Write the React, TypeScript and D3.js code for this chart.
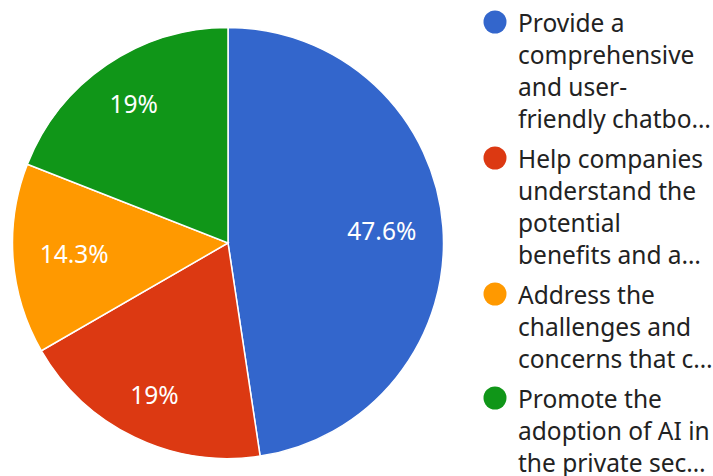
import React from "react";
import * as d3 from "d3";

const categories = [
  ["Provide a", "comprehensive", "and user-", "friendly chatbo…"],
  ["Help companies", "understand the", "potential", "benefits and a…"],
  ["Address the", "challenges and", "concerns that c…"],
  ["Promote the", "adoption of AI in", "the private sec…"],
];
const counts = [10, 4, 3, 4];
const percentLabels = ["47.6%", "19%", "14.3%", "19%"];
const colors = ["#3366cc", "#dc3912", "#ff9900", "#109618"];

const W = 713;
const H = 476;
const CX = 228;
const CY = 243;
const R = 215.5;
const LABEL_R = 188;
const FS = 24.5;

const charW: Record<string, number> = { ".": 0.268, "%": 0.82 };
function textWidth(s: string) {
  let w = 0;
  for (const ch of s) w += (charW[ch] ?? 0.572) * FS;
  return w - 0.1 * FS;
}

export default function App() {
  const pie = d3.pie<number>().sort(null).value((d) => d);
  const arcs = pie(counts);
  const arc = d3.arc<d3.PieArcDatum<number>>().innerRadius(0).outerRadius(R);

  const labelPos = (a: d3.PieArcDatum<number>, text: string) => {
    const mid = (a.startAngle + a.endAngle) / 2;
    const ux = Math.sin(mid);
    const uy = -Math.cos(mid);
    const w = textWidth(text);
    const h = 17;
    const cx = Math.sign(ux) * (w / 2);
    const cy = Math.sign(uy) * (h / 2);
    const uc = ux * cx + uy * cy;
    const d = -uc + Math.sqrt(uc * uc - (cx * cx + cy * cy) + LABEL_R * LABEL_R);
    return [CX + d * ux, CY + d * uy];
  };

  const lineH = 32;
  const gap = 8;
  let y = 31.7;
  const legendItems = categories.map((lines, i) => {
    const top = y;
    y += lines.length * lineH + gap;
    return { lines, top, color: colors[i] };
  });

  return (
    <svg
      width={W}
      height={H}
      style={{ position: "absolute", left: 0, top: 0, fontFamily: "'Noto Sans', sans-serif" }}
    >
      <rect width={W} height={H} fill="#ffffff" />
      <g transform={`translate(${CX},${CY})`}>
        {arcs.map((a, i) => (
          <path key={i} d={arc(a) || ""} fill={colors[i]} stroke="#ffffff" strokeWidth={1.5} />
        ))}
      </g>
      {arcs.map((a, i) => {
        const [x, yy] = labelPos(a, percentLabels[i]);
        return (
          <text
            key={i}
            x={x}
            y={yy + 8.5}
            textAnchor="middle"
            fill="#ffffff"
            fontSize={FS}
          >
            {percentLabels[i]}
          </text>
        );
      })}
      {legendItems.map((it, i) => (
        <g key={i}>
          <circle cx={495} cy={it.top - 9.7} r={11.5} fill={it.color} />
          {it.lines.map((ln, j) => (
            <text key={j} x={518} y={it.top + j * lineH} fontSize={FS} fill="#222222">
              {ln}
            </text>
          ))}
        </g>
      ))}
    </svg>
  );
}
